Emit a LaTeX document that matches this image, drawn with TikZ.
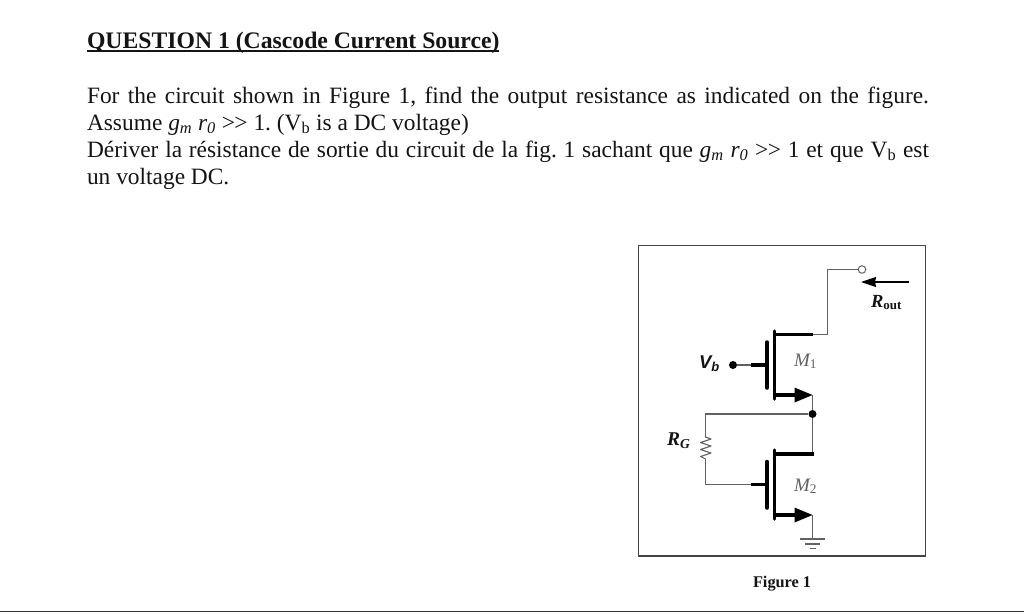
\documentclass[tikz,border=0pt]{standalone}
\usepackage{fontspec}
\setmainfont{Liberation Serif}
\newfontfamily\vbfont{Liberation Sans}
\usetikzlibrary{arrows.meta}
\definecolor{ink}{gray}{0.08}
\definecolor{wirec}{gray}{0.38}
\frenchspacing
\newcommand{\bodyline}[1]{\fontsize{23.4}{26}\selectfont\makebox[842pt][s]{#1}}
\newcommand{\gmro}{\textit{g\textsubscript{m}\ r\textsubscript{0}}}
\newcommand{\vbsub}{V\textsubscript{b}}
\newcommand{\ggt}{{>}\kern-0.5pt{>}}
\tikzset{
  txt/.style={anchor=base west,inner sep=0pt,outer sep=0pt,text=ink},
  body/.style={txt,font=\fontsize{23.4}{26}\selectfont},
  lab/.style={anchor=base west,inner sep=0pt,outer sep=0pt,text=ink},
  wire/.style={draw=wirec,line width=1.1pt},
  heavy/.style={draw=black,line width=3.5pt},
  plate/.style={draw=black,line width=3.5pt,line cap=round},
  head/.style={fill=black,draw=none},
  dotn/.style={circle,fill=black,inner sep=0pt,minimum size=#1},
  hollow/.style={circle,draw=wirec,fill=white,line width=1pt,inner sep=0pt,minimum size=7.5pt},
}
\begin{document}
\begin{tikzpicture}[x=1pt,y=-1pt]
\useasboundingbox (0,0) rectangle (1024,613);
\fill[white] (0,0) rectangle (1024,613);
% text
\node[txt,font=\fontsize{23.7}{26}\selectfont\bfseries] (title) at (87,48) {QUESTION 1 (Cascode Current Source)};
\coordinate (ulA) at (87,51); \coordinate (ulB) at (499,51);
\draw[ink,line width=1.3pt] (ulA) -- (ulB);
\node[txt] (l1) at (87,103) {\bodyline{For the circuit shown in Figure 1, find the output resistance as indicated on the figure.}};
\node[body] (l2) at (87,130) {Assume \gmro\ \ggt\ 1. (\vbsub\ is a DC voltage)};
\node[txt] (l3) at (87,157) {\bodyline{Dériver la résistance de sortie du circuit de la fig. 1 sachant que \gmro\ \ggt\ 1 et que \vbsub\ est}};
\node[body] (l4) at (87,184) {un voltage DC.};
% frame
\node[draw=wirec!70!black,line width=1.5pt,outer sep=0pt,minimum width=287pt,minimum height=310.5pt,inner sep=0pt,anchor=north west] (frame) at (638.5,245.5) {};
% coordinates
\node[hollow] (out) at (862,269.5) {};
\coordinate (c1) at (827.5,269.5);
\coordinate (c2) at (827.5,334.5);
\coordinate (d1e) at (813,334.5);
\coordinate (d1s) at (774.5,334.5);
\coordinate (ch1a) at (774.5,331);
\coordinate (ch1b) at (774.5,399);
\coordinate (pl1a) at (767,342);
\coordinate (pl1b) at (767,388);
\coordinate (g1) at (767,365);
\coordinate (g1m) at (751,365);
\node[dotn=8pt] (vb) at (733,365) {};
\coordinate (s1a) at (774.5,395);
\coordinate (s1m) at (797,395);
\coordinate (s1t) at (812.5,395);
\node[dotn=8pt] (mid) at (812.5,414) {};
\coordinate (c3) at (705.5,414);
\coordinate (r1) at (705.5,436);
\coordinate (r2) at (705.5,459);
\coordinate (c4) at (705.5,484.5);
\coordinate (g2m) at (751,484.5);
\coordinate (g2) at (767,484.5);
\coordinate (pl2a) at (767,461.5);
\coordinate (pl2b) at (767,508);
\coordinate (ch2a) at (774.5,450);
\coordinate (ch2b) at (774.5,519);
\coordinate (d2s) at (774.5,454);
\coordinate (d2m) at (812.5,454);
\coordinate (d2e) at (813.5,454);
\coordinate (s2a) at (774.5,515);
\coordinate (s2m) at (797,515);
\coordinate (s2t) at (812.5,515);
\coordinate (gnd) at (812.5,539);
% M1
\draw[wire] (out) -- (c1) -- (c2) -- (d1e);
\draw[heavy] (d1s) -- (d1e);
\draw[plate] (ch1a) -- (ch1b);
\draw[plate] (pl1a) -- (pl1b);
\draw[heavy] (g1) -- (g1m);
\draw[wire] (g1m) -- (vb);
\draw[heavy] (s1a) -- (s1m);
\fill[head] (s1t) -- (794.5,387.5) -- (794.5,402.5) -- cycle;
\draw[wire] (s1t) -- (mid);
% feedback
\draw[wire] (mid) -- (c3) -- (r1);
\draw[wire,line join=round] (r1) -- (705.5,437) -- (711,439) -- (700.5,442.5) -- (711,446) -- (700.5,449.5) -- (711,453) -- (700.5,456.5) -- (r2);
\draw[wire] (r2) -- (c4) -- (g2m);
% M2
\draw[wire] (mid) -- (d2m);
\draw[heavy] (d2s) -- (d2e);
\draw[plate] (ch2a) -- (ch2b);
\draw[plate] (pl2a) -- (pl2b);
\draw[heavy] (g2) -- (g2m);
\draw[heavy] (s2a) -- (s2m);
\fill[head] (s2t) -- (794.5,507.5) -- (794.5,522.5) -- cycle;
\draw[wire] (s2t) -- (gnd);
% ground
\draw[wire] (800,539) -- (825,539);
\draw[wire] (805,544) -- (820,544);
\draw[wire] (809.5,548.5) -- (815.5,548.5);
% Rout arrow
\coordinate (ra) at (909,282); \coordinate (rb) at (861,282);
\draw[black,line width=1.2pt,-{Stealth[length=15pt,width=10pt,inset=1pt]}] (ra) -- (rb);
% labels
\node[lab,font=\fontsize{18.5}{20}\selectfont\bfseries\itshape] (rout) at (871,307) {R\textsubscript{\bfseries\upshape out}};
\node[lab,font=\vbfont\fontsize{18.5}{20}\selectfont\bfseries\itshape] (vbl) at (699,368) {V\textsubscript{b}};
\node[lab,font=\fontsize{19.5}{20}\selectfont\bfseries\itshape] (rg) at (667,445) {R\textsubscript{G}};
\node[lab,text=wirec,font=\fontsize{19}{20}\selectfont\itshape] (m1) at (794,366) {M\textsubscript{\upshape 1}};
\node[lab,text=wirec,font=\fontsize{19}{20}\selectfont\itshape] (m2) at (794,491) {M\textsubscript{\upshape 2}};
\node[lab,font=\fontsize{16.3}{18}\selectfont\bfseries] (fig) at (753,587) {Figure 1};
% bottom edge
\coordinate (bA) at (0,611.5); \coordinate (bB) at (1024,611.5);
\draw[black!80,line width=1.6pt] (bA) -- (bB);
\end{tikzpicture}
\end{document}
